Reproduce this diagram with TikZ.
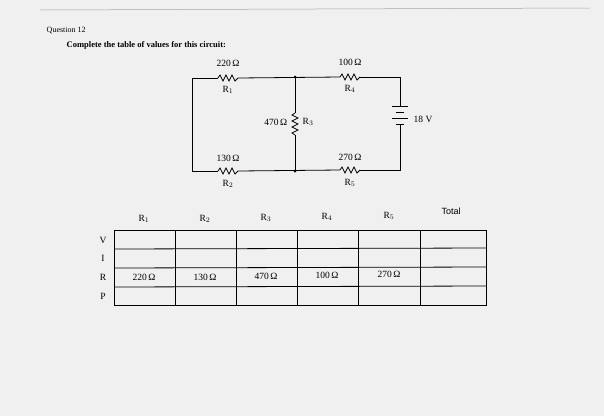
\documentclass[tikz,border=0pt]{standalone}
\usepackage{fontspec}
\setmainfont{Liberation Serif}
\newfontfamily\totalfont{Liberation Sans}
\begin{document}
\begin{tikzpicture}[x=1pt,y=-1pt,line width=0.8pt,font=\fontsize{9.5}{11}\selectfont]
  \fill[black!6] (0,0) rectangle (604,416);
  \useasboundingbox (0,0) rectangle (604,416);
  \draw[black!35,line width=0.5pt] (40,10) -- (590,8);
  \node[anchor=west,font=\fontsize{8}{9}\selectfont] (qno) at (43,30) {Question 12};
  \node[anchor=west,font=\fontsize{8.5}{10}\selectfont\bfseries] (ask) at (63,45) {Complete the table of values for this circuit:};
  % circuit wires
  \draw (192,78) -- (218,78);
  \draw (238,78) -- (340,77);
  \draw (360,77) -- (400,77) -- (400,106);
  \draw (400,130) -- (400,170) -- (360,170);
  \draw (340,170) -- (238,171);
  \draw (218,171) -- (192,171) -- (192,78);
  \draw (295,77) -- (295,113);
  \draw (295,135) -- (295,171);
  \fill (295,77) circle (1.5);
  \fill (295,171) circle (1.5);
  % resistors
  \draw (218,78) -- (220,75) -- (223,81) -- (226,75) -- (229,81) -- (232,75) -- (235,81) -- (238,78);
  \draw (340,77) -- (342,74) -- (345,80) -- (348,74) -- (351,80) -- (354,74) -- (357,80) -- (360,77);
  \draw (218,171) -- (220,168) -- (223,174) -- (226,168) -- (229,174) -- (232,168) -- (235,174) -- (238,171);
  \draw (340,170) -- (342,167) -- (345,173) -- (348,167) -- (351,173) -- (354,167) -- (357,173) -- (360,170);
  \draw (295,113) -- (292,115) -- (298,118) -- (292,121) -- (298,124) -- (292,127) -- (298,130) -- (292,133) -- (295,135);
  % battery
  \draw (392,106) -- (408,106);
  \draw (396,112) -- (404,112);
  \draw (392,118) -- (408,118);
  \draw (396,124) -- (404,124);
  \draw (400,124) -- (400,130);
  \node (r1v) at (228,63) {220\,Ω};
  \node (r1) at (228,90) {R$_1$};
  \node (r4v) at (350,62) {100\,Ω};
  \node (r4) at (350,89) {R$_4$};
  \node[anchor=east] (r3v) at (291,122) {470\,Ω};
  \node[anchor=west] (r3) at (299,122) {R$_3$};
  \node[anchor=west] (emf) at (410,119) {18 V};
  \node (r2v) at (228,158) {130\,Ω};
  \node (r2) at (228,184) {R$_2$};
  \node (r5v) at (350,157) {270\,Ω};
  \node (r5) at (350,183) {R$_5$};
  % table
  \draw[line width=1pt] (114,230) rectangle (486,305);
  \draw (114,249) -- (486,248);
  \draw (114,268) -- (486,267);
  \draw (114,287) -- (486,286);
  \draw (175,230) -- (175,305);
  \draw (236,230) -- (236,305);
  \draw (297,230) -- (297,305);
  \draw (358,230) -- (358,305);
  \draw (420,230) -- (420,305);
  \node (hr1) at (144,219) {R$_1$};
  \node (hr2) at (205,219) {R$_2$};
  \node (hr3) at (266,218) {R$_3$};
  \node (hr4) at (327,217) {R$_4$};
  \node (hr5) at (389,216) {R$_5$};
  \node[font=\fontsize{9}{10}\selectfont\totalfont] (htot) at (451,211) {Total};
  \node (rv) at (103,240) {V};
  \node (ri) at (103,258) {I};
  \node (rr) at (103,277) {R};
  \node (rp) at (103,296) {P};
  \node (c1) at (144,277) {220\,Ω};
  \node (c2) at (205,277) {130\,Ω};
  \node (c3) at (266,276) {470\,Ω};
  \node (c4) at (327,275) {100\,Ω};
  \node (c5) at (389,274) {270\,Ω};
\end{tikzpicture}
\end{document}
